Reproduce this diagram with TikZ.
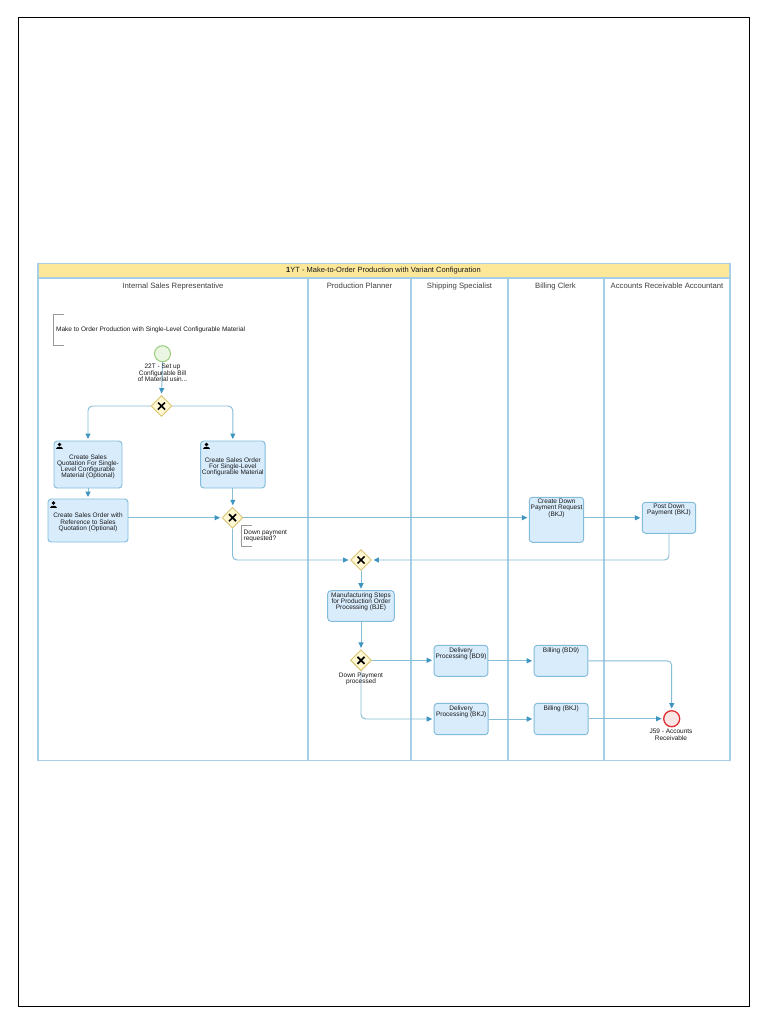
\documentclass[tikz,border=0pt]{standalone}
\usepackage{fontspec}
\setmainfont{Liberation Sans}
\usetikzlibrary{arrows.meta,shapes.geometric}
\definecolor{lanec}{HTML}{A6CEE4}
\definecolor{taskfill}{HTML}{D8ECFC}
\definecolor{taskline}{HTML}{82BCDA}
\definecolor{flowc}{HTML}{86BDD8}
\definecolor{tipc}{HTML}{3E96C0}
\definecolor{headc}{HTML}{FDE89A}
\definecolor{gatefill}{HTML}{FFF8D2}
\definecolor{gateline}{HTML}{D9C474}
\definecolor{startline}{HTML}{98CE7C}
\definecolor{startfill}{HTML}{EAF6E2}
\definecolor{endline}{HTML}{E03034}
\definecolor{endfill}{HTML}{FBE6E6}
\tikzset{
 lane/.style={draw=lanec,line width=1.1pt},
 task/.style={draw=taskline,fill=taskfill,rounded corners=3.2pt,line width=.95pt,inner sep=0pt},
 tasktext/.style={font=\fontsize{6.5}{6.2}\selectfont,align=center,inner sep=0pt,text=black!90},
 lanetitle/.style={font=\fontsize{7.7}{8}\selectfont,inner sep=0pt,text=black!75,anchor=base},
 gate/.style={diamond,draw=gateline,fill=gatefill,line width=.9pt,minimum width=21pt,minimum height=21pt,inner sep=0pt},
 flow/.style={draw=flowc,line width=.95pt,rounded corners=4.5pt,shorten >=1.5pt,-{Triangle[length=5.5pt,width=5pt,color=tipc]}},
 note/.style={draw=black!40,line width=.8pt},
}
\newcommand{\gatex}[1]{\draw[line width=1.7pt] ([shift={(-3.5,-3.5)}]#1.center) -- ([shift={(3.5,3.5)}]#1.center) ([shift={(-3.5,3.5)}]#1.center) -- ([shift={(3.5,-3.5)}]#1.center);}
\newcommand{\usermark}[1]{\fill[black] ([shift={(0,-1.5)}]#1) circle (1.8pt); \fill[black] ([shift={(-3.4,3.2)}]#1) .. controls ([shift={(-3.4,0.2)}]#1) and ([shift={(3.4,0.2)}]#1) .. ([shift={(3.4,3.2)}]#1) -- cycle;}
\begin{document}
\begin{tikzpicture}[x=1pt,y=-1pt]
\useasboundingbox (0,0) rectangle (768,1024);
\fill[white] (0,0) rectangle (768,1024);
\draw[black,line width=.9pt] (18.5,17.5) rectangle (749.5,1006.5);
% pool
\fill[headc] (38,263.5) rectangle (730,278);
\draw[lane] (38,263.5) rectangle (730,760.5);
\draw[lane] (38,278) -- (730,278);
\draw[lane] (308,278) -- (308,760.5);
\draw[lane] (411,278) -- (411,760.5);
\draw[lane] (508,278) -- (508,760.5);
\draw[lane] (604,278) -- (604,760.5);
\node[font=\fontsize{7.5}{8}\selectfont,inner sep=0pt,text=black!90] (title) at (383.5,270.3) {\textbf{1}YT - Make-to-Order Production with Variant Configuration};
\node[lanetitle] (l1) at (173,288.3) {Internal Sales Representative};
\node[lanetitle] (l2) at (359.5,288.3) {Production Planner};
\node[lanetitle] (l3) at (459.5,288.3) {Shipping Specialist};
\node[lanetitle] (l4) at (555.5,288.3) {Billing Clerk};
\node[lanetitle] (l5) at (667,288.3) {Accounts Receivable Accountant};
% annotations
\draw[note] (64,314) -- (53.5,314) -- (53.5,345.5) -- (64,345.5);
\node[tasktext,anchor=west] (n1) at (56,329.5) {Make to Order Production with Single-Level Configurable Material};
\draw[note] (252,525) -- (241.5,525) -- (241.5,546) -- (252,546);
\node[tasktext,anchor=west,align=left] (n2) at (243.5,536) {Down payment\\requested?};
% events
\node[circle,draw=startline,fill=startfill,line width=1pt,minimum size=16pt,inner sep=0pt] (start) at (162.5,353.7) {};
\node[circle,draw=endline,fill=endfill,line width=1.3pt,minimum size=16pt,inner sep=0pt] (end) at (671.7,718.7) {};
% gateways
\node[gate] (g1) at (161.5,406) {};
\node[gate] (g2) at (232.5,517.7) {};
\node[gate] (g3) at (361,560) {};
\node[gate] (g4) at (361,660.3) {};
% tasks
\node[task,minimum width=68pt,minimum height=47pt] (A) at (88,464.5) {};
\node[task,minimum width=80pt,minimum height=43pt] (B) at (88,520.5) {};
\node[task,minimum width=64.5pt,minimum height=47pt] (C) at (232.8,464.5) {};
\node[task,minimum width=66.6pt,minimum height=30.6pt] (D) at (361,606) {};
\node[task,minimum width=53.7pt,minimum height=31pt] (E) at (461,660.8) {};
\node[task,minimum width=54pt,minimum height=31.4pt] (F) at (461.2,719) {};
\node[task,minimum width=54.4pt,minimum height=45pt] (G) at (556.5,519.8) {};
\node[task,minimum width=53.4pt,minimum height=31pt] (H) at (669,517.8) {};
\node[task,minimum width=53.7pt,minimum height=31pt] (I) at (561,660.8) {};
\node[task,minimum width=54pt,minimum height=31.4pt] (J) at (561.2,719) {};
% flows
\draw[flow] (start.south) -- (g1.north);
\draw[flow] (g1.west) -| (A.north);
\draw[flow] (g1.east) -| (C.north);
\draw[flow] (A.south) -- (B.north -| A.south);
\draw[flow] (C.south) -- (g2.north -| C.south);
\draw[flow] (B.east |- g2.west) -- (g2.west);
\draw[flow] (g2.east) -- (G.west |- g2.east);
\draw[flow] (G.east |- H.west) -- (H.west);
\draw[flow] (H.south) |- (g3.east);
\draw[flow] (g2.south) |- (g3.west);
\draw[flow] (g3.south) -- (D.north);
\draw[flow] (D.south) -- (g4.north);
\draw[flow] (g4.east) -- (E.west |- g4.east);
\draw[flow] (g4.south) |- (F.west);
\draw[flow] (E.east) -- (I.west);
\draw[flow] (F.east) -- (J.west);
\draw[flow] (I.east) -| (end.north);
\draw[flow] (J.east |- end.west) -- (end.west);
% gateway marks
\gatex{g1}\gatex{g2}\gatex{g3}\gatex{g4}
% user marks
\usermark{59.5,446}
\usermark{53.5,504.5}
\usermark{206.5,446}
% texts
\node[tasktext] (ta) at (88,467) {Create Sales\\Quotation For Single-\\Level Configurable\\Material (Optional)};
\node[tasktext] (tb) at (88,522.5) {Create Sales Order with\\Reference to Sales\\Quotation (Optional)};
\node[tasktext] (tc) at (232.8,467) {Create Sales Order\\For Single-Level\\Configurable Material};
\node[tasktext,anchor=north] (td) at (361,592.4) {Manufacturing Steps\\for Production Order\\Processing (BJE)};
\node[tasktext,anchor=north] (te) at (461,647.4) {Delivery\\Processing (BD9)};
\node[tasktext,anchor=north] (tf) at (461.2,705.4) {Delivery\\Processing (BKJ)};
\node[tasktext,anchor=north] (tg) at (556.5,499) {Create Down\\Payment Request\\(BKJ)};
\node[tasktext,anchor=north] (th) at (669,504) {Post Down\\Payment (BKJ)};
\node[tasktext,anchor=north] (ti) at (561,647.4) {Billing (BD9)};
\node[tasktext,anchor=north] (tj) at (561.2,705.4) {Billing (BKJ)};
\node[tasktext] (ts) at (162.5,372.8) {22T - Set up\\Configurable Bill\\of Material usin...};
\node[tasktext] (t4) at (361,678.8) {Down Payment\\processed};
\node[tasktext] (te2) at (671,734.8) {J59 - Accounts\\Receivable};
\end{tikzpicture}
\end{document}
